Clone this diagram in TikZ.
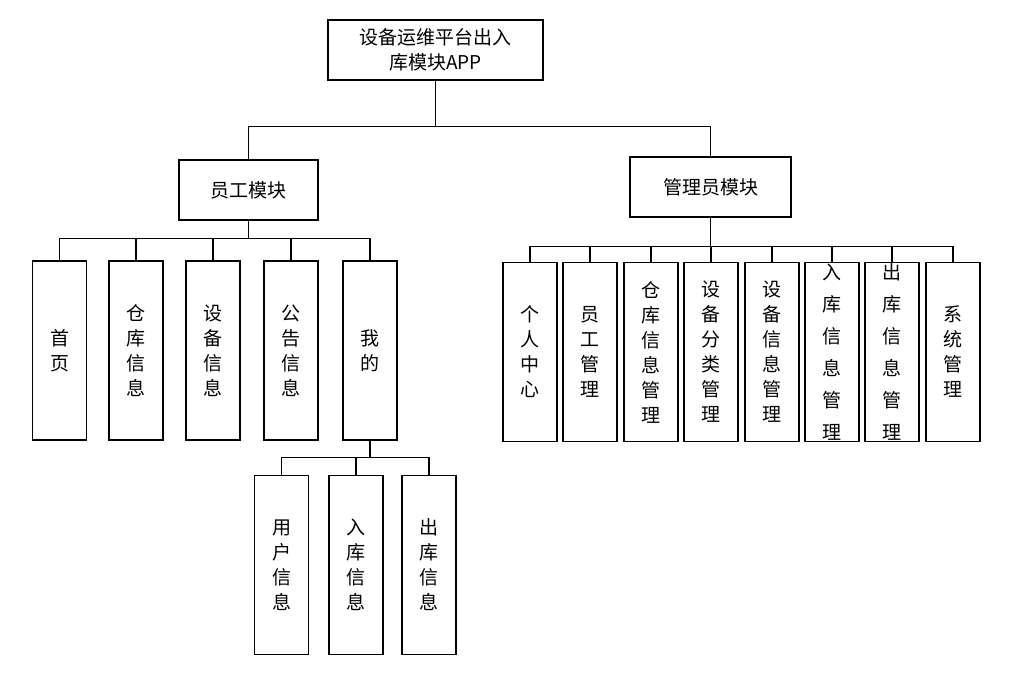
\documentclass[tikz,border=0pt]{standalone}
\usepackage{fontspec}
\setmainfont{Noto Sans CJK SC}
\begin{document}
\begin{tikzpicture}[x=1pt,y=-1pt,
  box/.style={draw,line width=1.3pt,inner sep=0pt,align=center,font=\fontsize{19}{25}\selectfont},
  tall/.style={box,minimum width=54pt,minimum height=179pt},
  tallx/.style={tall,font=\fontsize{19}{32}\selectfont},
  ln/.style={line width=1.3pt}]
\useasboundingbox (0,0) rectangle (1018,675);
\node[box,minimum width=215pt,minimum height=60pt] (root) at (435.5,50) {设备运维平台出入\\库模块APP};
\node[box,minimum width=139pt,minimum height=60pt] (emp) at (248.5,190) {员工模块};
\node[box,minimum width=161pt,minimum height=60pt] (adm) at (710.5,187) {管理员模块};
% employee children
\node[tall] (e1) at (59.5,350.5) {首\\页};
\node[tall] (e2) at (136,350.5) {仓\\库\\信\\息};
\node[tall] (e3) at (213,350.5) {设\\备\\信\\息};
\node[tall] (e4) at (291,350.5) {公\\告\\信\\息};
\node[tall] (e5) at (370,350.5) {我\\的};
\node[tall] (m1) at (281.5,565) {用\\户\\信\\息};
\node[tall] (m2) at (356,565) {入\\库\\信\\息};
\node[tall] (m3) at (429,565) {出\\库\\信\\息};
% admin children
\node[tall] (a1) at (530,352) {个\\人\\中\\心};
\node[tall] (a2) at (590,352) {员\\工\\管\\理};
\node[tall] (a3) at (651,352) {仓\\库\\信\\息\\管\\理};
\node[tall] (a4) at (711,352) {设\\备\\分\\类\\管\\理};
\node[tall] (a5) at (772,352) {设\\备\\信\\息\\管\\理};
\node[tallx] (a6) at (832,352) {入\\库\\信\\息\\管\\理};
\node[tallx] (a7) at (892,352) {出\\库\\信\\息\\管\\理};
\node[tall] (a8) at (953,352) {系\\统\\管\\理};
% connectors
\draw[ln] (root.south) -- ++(0,46) -| (emp.north);
\draw[ln] (root.south) -- ++(0,46) -| (adm.north);
\foreach \c in {e1,e2,e3,e4,e5} \draw[ln] (emp.south) -- ++(0,18) -| (\c.north);
\foreach \c in {m1,m2,m3} \draw[ln] (e5.south) -- ++(0,17) -| (\c.north);
\foreach \c in {a1,a2,a3,a4,a5,a6,a7,a8} \draw[ln] (adm.south) -- ++(0,29) -| (\c.north);
\end{tikzpicture}
\end{document}
